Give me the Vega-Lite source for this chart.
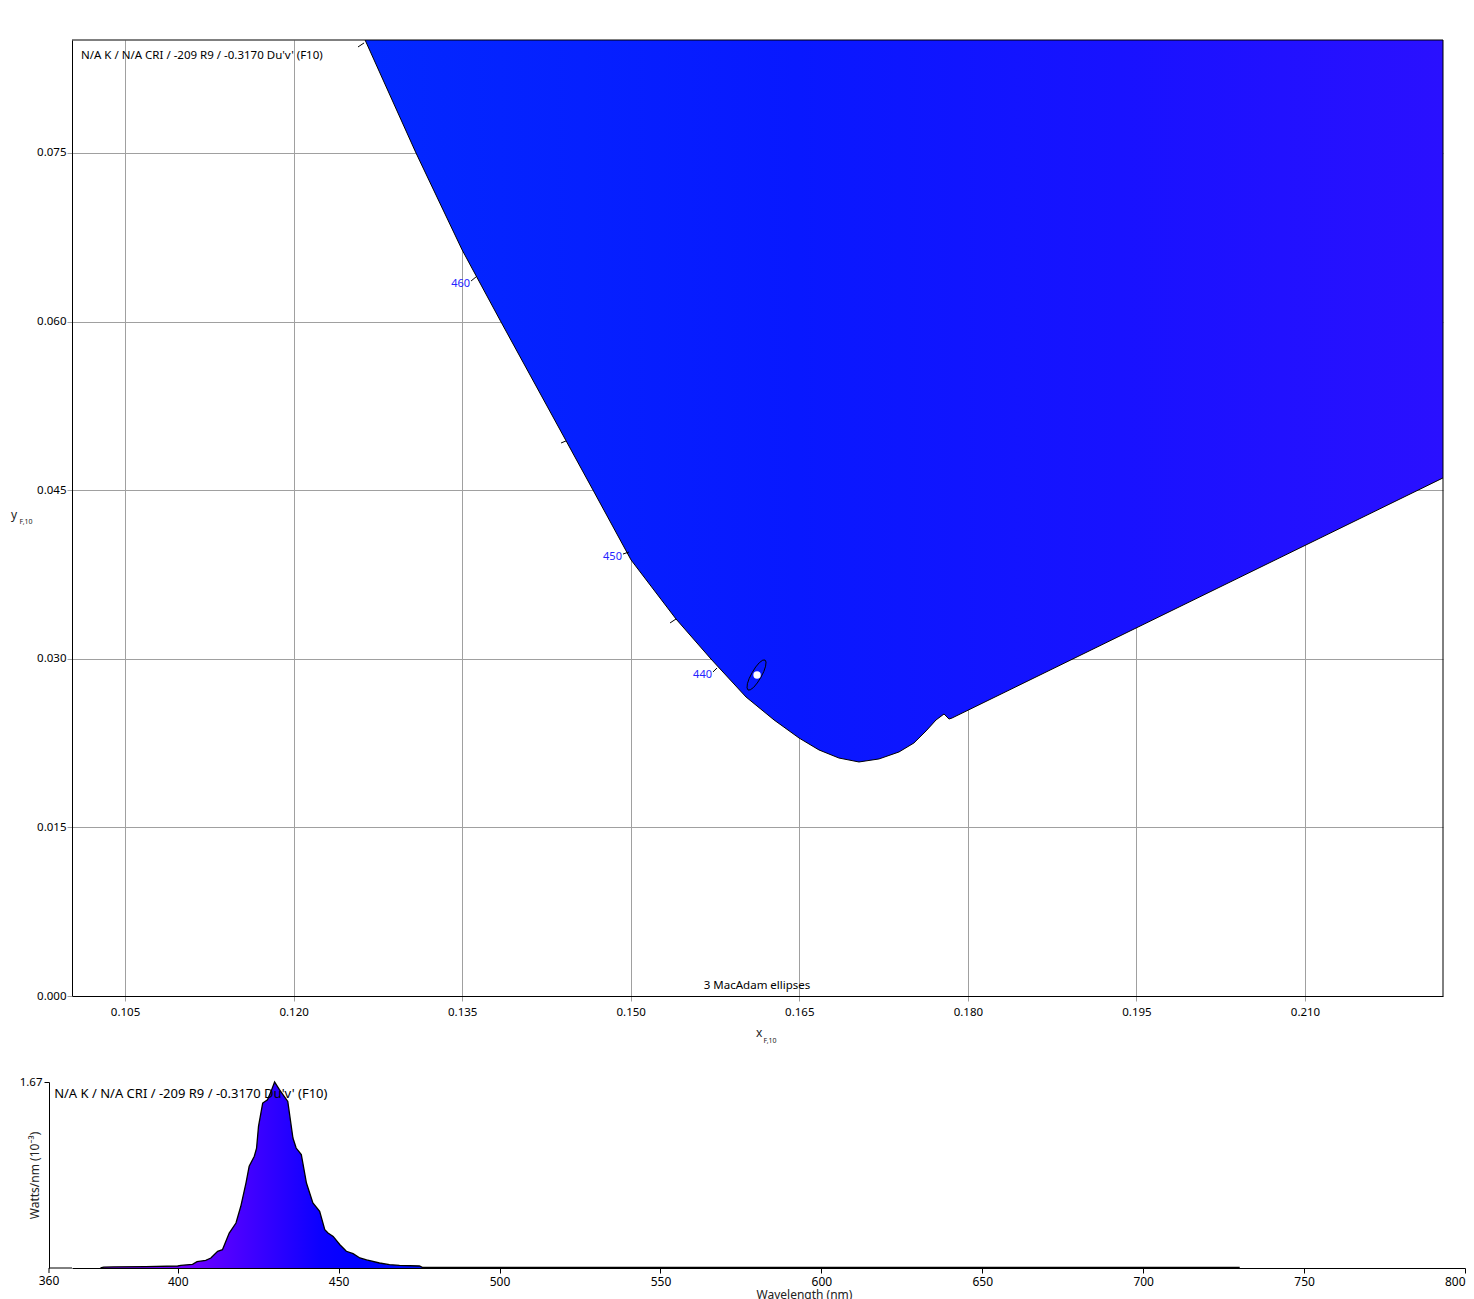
{
  "$schema": "https://vega.github.io/schema/vega-lite/v6.json",
  "background": "white",
  "padding": {"left": 10, "top": 39, "right": 0, "bottom": 0},
  "spacing": 32,
  "config": {
    "font": "Noto Sans",
    "view": {"stroke": null},
    "axis": {"labelFont": "Noto Sans", "labelFontSize": 11.5, "labelColor": "black", "titleFont": "Noto Sans", "titleFontWeight": "normal", "titleColor": "#222222", "zindex": 1},
    "text": {"font": "Noto Sans"}
  },
  "datasets": {
    "one": [{}],
    "locus": [
      {"x": 0.12636, "y": 0.08505}, {"x": 0.13089, "y": 0.07500}, {"x": 0.13500, "y": 0.06637},
      {"x": 0.13846, "y": 0.05996}, {"x": 0.14255, "y": 0.05249}, {"x": 0.14664, "y": 0.04502},
      {"x": 0.15003, "y": 0.03879}, {"x": 0.15403, "y": 0.03354}, {"x": 0.15714, "y": 0.02998},
      {"x": 0.16026, "y": 0.02660}, {"x": 0.16275, "y": 0.02456}, {"x": 0.16498, "y": 0.02295},
      {"x": 0.16675, "y": 0.02189}, {"x": 0.16853, "y": 0.02117}, {"x": 0.17031, "y": 0.02082},
      {"x": 0.17209, "y": 0.02109}, {"x": 0.17387, "y": 0.02171}, {"x": 0.17520, "y": 0.02251},
      {"x": 0.17628, "y": 0.02358}, {"x": 0.17717, "y": 0.02456}, {"x": 0.17788, "y": 0.02509},
      {"x": 0.17832, "y": 0.02464}, {"x": 0.17859, "y": 0.02473}, {"x": 0.22228, "y": 0.04609}
    ],
    "ticks": [
      {"x": 0.12573, "y": 0.08443, "x2": 0.12627, "y2": 0.08479},
      {"x": 0.13579, "y": 0.06361, "x2": 0.13623, "y2": 0.06397},
      {"x": 0.14380, "y": 0.04920, "x2": 0.14424, "y2": 0.04938},
      {"x": 0.14931, "y": 0.03932, "x2": 0.14985, "y2": 0.03950},
      {"x": 0.15350, "y": 0.03319, "x2": 0.15403, "y2": 0.03354},
      {"x": 0.15732, "y": 0.02883, "x2": 0.15768, "y2": 0.02918}
    ],
    "wlabels": [
      {"x": 0.13570, "y": 0.06335, "t": "460"},
      {"x": 0.14922, "y": 0.03906, "t": "450"},
      {"x": 0.15723, "y": 0.02856, "t": "440"}
    ],
    "ellipse": [
      {"o": 0, "x": 0.16195, "y": 0.02989}, {"o": 1, "x": 0.16204, "y": 0.02971}, {"o": 2, "x": 0.16200, "y": 0.02934},
      {"o": 3, "x": 0.16184, "y": 0.02886}, {"o": 4, "x": 0.16158, "y": 0.02834}, {"o": 5, "x": 0.16126, "y": 0.02785},
      {"o": 6, "x": 0.16094, "y": 0.02746}, {"o": 7, "x": 0.16064, "y": 0.02724}, {"o": 8, "x": 0.16044, "y": 0.02722},
      {"o": 9, "x": 0.16035, "y": 0.02741}, {"o": 10, "x": 0.16038, "y": 0.02778}, {"o": 11, "x": 0.16054, "y": 0.02825},
      {"o": 12, "x": 0.16081, "y": 0.02878}, {"o": 13, "x": 0.16112, "y": 0.02927}, {"o": 14, "x": 0.16145, "y": 0.02966},
      {"o": 15, "x": 0.16175, "y": 0.02988}, {"o": 16, "x": 0.16195, "y": 0.02989}
    ],
    "spec": [
      {"wl": 376, "v": 0.0}, {"wl": 377, "v": 0.008}, {"wl": 380, "v": 0.01}, {"wl": 390, "v": 0.012},
      {"wl": 400, "v": 0.018}, {"wl": 401, "v": 0.024}, {"wl": 404.6, "v": 0.033}, {"wl": 406, "v": 0.057},
      {"wl": 408.7, "v": 0.069}, {"wl": 410.3, "v": 0.09}, {"wl": 412.4, "v": 0.15}, {"wl": 413.9, "v": 0.165},
      {"wl": 416, "v": 0.314}, {"wl": 418.1, "v": 0.404}, {"wl": 419.6, "v": 0.554}, {"wl": 421.2, "v": 0.763},
      {"wl": 422.2, "v": 0.913}, {"wl": 423.8, "v": 1.003}, {"wl": 424.5, "v": 1.077}, {"wl": 425.1, "v": 1.272},
      {"wl": 426.4, "v": 1.481}, {"wl": 427.9, "v": 1.511}, {"wl": 429, "v": 1.586}, {"wl": 430.1, "v": 1.67},
      {"wl": 431.6, "v": 1.601}, {"wl": 434.2, "v": 1.496}, {"wl": 435.8, "v": 1.167}, {"wl": 436.8, "v": 1.077},
      {"wl": 438.4, "v": 1.018}, {"wl": 440, "v": 0.763}, {"wl": 442, "v": 0.584}, {"wl": 444.1, "v": 0.509},
      {"wl": 445.7, "v": 0.344}, {"wl": 446.7, "v": 0.314}, {"wl": 448.3, "v": 0.284}, {"wl": 450.4, "v": 0.209},
      {"wl": 452.4, "v": 0.15}, {"wl": 454.5, "v": 0.129}, {"wl": 456.6, "v": 0.09}, {"wl": 458.7, "v": 0.072},
      {"wl": 462.7, "v": 0.045}, {"wl": 465.8, "v": 0.03}, {"wl": 468.9, "v": 0.024}, {"wl": 475.1, "v": 0.018},
      {"wl": 476, "v": 0.006}, {"wl": 500, "v": 0.005}, {"wl": 600, "v": 0.005}, {"wl": 700, "v": 0.005},
      {"wl": 730, "v": 0.005}
    ]
  },
  "vconcat": [
    {
      "width": 1371,
      "height": 956,
      "encoding": {
        "x": {"type": "quantitative", "scale": {"domain": [0.10028, 0.22228], "nice": false, "zero": false},
          "axis": {"values": [0.105, 0.12, 0.135, 0.15, 0.165, 0.18, 0.195, 0.21], "format": ".3f", "title": null, "grid": true, "gridColor": "#a0a0a0", "gridOpacity": 1, "tickColor": "#a0a0a0", "tickSize": 5, "domainColor": "black", "labelPadding": 5}},
        "y": {"type": "quantitative", "scale": {"domain": [0, 0.08505], "nice": false, "zero": false},
          "axis": {"values": [0, 0.015, 0.03, 0.045, 0.06, 0.075], "format": ".3f", "title": null, "grid": true, "gridColor": "#a0a0a0", "gridOpacity": 1, "tickColor": "#a0a0a0", "tickSize": 5, "domainColor": "black", "labelPadding": 1}}
      },
      "layer": [
        {
          "data": {"name": "locus"},
          "mark": {"type": "area", "clip": true, "color": {"gradient": "linear", "x1": 0, "y1": 0, "x2": 1, "y2": 0, "stops": [{"offset": 0, "color": "#0228ff"}, {"offset": 0.4, "color": "#0818ff"}, {"offset": 0.7, "color": "#1812ff"}, {"offset": 1, "color": "#2a10ff"}]}},
          "encoding": {"x": {"field": "x"}, "y": {"field": "y"}, "y2": {"datum": 0.08505}}
        },
        {
          "data": {"name": "locus"},
          "mark": {"type": "line", "clip": true, "color": "black", "strokeWidth": 1},
          "encoding": {"x": {"field": "x"}, "y": {"field": "y"}}
        },
        {
          "data": {"name": "ticks"},
          "mark": {"type": "rule", "color": "black", "strokeWidth": 1},
          "encoding": {"x": {"field": "x"}, "y": {"field": "y"}, "x2": {"field": "x2"}, "y2": {"field": "y2"}}
        },
        {
          "data": {"name": "wlabels"},
          "mark": {"type": "text", "align": "right", "baseline": "middle", "fontSize": 11, "color": "#2424ff"},
          "encoding": {"x": {"field": "x"}, "y": {"field": "y"}, "text": {"field": "t"}}
        },
        {
          "data": {"name": "ellipse"},
          "mark": {"type": "line", "color": "black", "strokeWidth": 1},
          "encoding": {"x": {"field": "x"}, "y": {"field": "y"}, "order": {"field": "o"}}
        },
        {
          "data": {"name": "one"},
          "mark": {"type": "point", "filled": true, "color": "white", "opacity": 1, "size": 55},
          "encoding": {"x": {"datum": 0.16124}, "y": {"datum": 0.02856}}
        },
        {
          "data": {"name": "one"},
          "mark": {"type": "rule", "color": "black", "strokeWidth": 1},
          "encoding": {"y": {"datum": 0.08505}}
        },
        {
          "data": {"name": "one"},
          "mark": {"type": "rule", "color": "black", "strokeWidth": 1},
          "encoding": {"x": {"datum": 0.22228}}
        },
        {
          "data": {"name": "one"},
          "mark": {"type": "text", "align": "left", "baseline": "middle", "fontSize": 11.5, "color": "black", "text": "N/A K / N/A CRI / -209 R9 / -0.3170 Du'v' (F10)"},
          "encoding": {"x": {"datum": 0.10108}, "y": {"datum": 0.08363}}
        },
        {
          "data": {"name": "one"},
          "mark": {"type": "text", "align": "center", "baseline": "middle", "fontSize": 11.5, "color": "black", "text": "3  MacAdam ellipses"},
          "encoding": {"x": {"datum": 0.16124}, "y": {"datum": 0.00089}}
        },
        {
          "data": {"name": "one"},
          "mark": {"type": "text", "align": "center", "baseline": "middle", "fontSize": 12, "color": "#222222", "text": "x"},
          "encoding": {"x": {"datum": 0.16142}, "y": {"datum": -0.00329}}
        },
        {
          "data": {"name": "one"},
          "mark": {"type": "text", "align": "center", "baseline": "middle", "fontSize": 7, "color": "#222222", "text": "F,10"},
          "encoding": {"x": {"datum": 0.16239}, "y": {"datum": -0.004}}
        },
        {
          "data": {"name": "one"},
          "mark": {"type": "text", "align": "center", "baseline": "middle", "fontSize": 12, "color": "#222222", "text": "y"},
          "encoding": {"x": {"datum": 0.09512}, "y": {"datum": 0.04279}}
        },
        {
          "data": {"name": "one"},
          "mark": {"type": "text", "align": "center", "baseline": "middle", "fontSize": 7, "color": "#222222", "text": "F,10"},
          "encoding": {"x": {"datum": 0.09619}, "y": {"datum": 0.04217}}
        }
      ]
    },
    {
      "width": 1393,
      "height": 186,
      "encoding": {
        "x": {"type": "quantitative", "scale": {"domain": [367.147, 800], "nice": false, "zero": false},
          "axis": {"values": [400, 450, 500, 550, 600, 650, 700, 750, 800], "format": "d", "title": "Wavelength (nm)", "titleFontSize": 12, "titlePadding": 2, "titleX": 732, "titleAlign": "center", "grid": false, "tickColor": "black", "tickSize": 5, "domainColor": "black", "labelPadding": 3, "labelFontSize": 12}},
        "y": {"type": "quantitative", "scale": {"domain": [0, 1.67], "nice": false, "zero": true},
          "axis": {"values": [1.67], "format": ".2f", "offset": 23, "title": "Watts/nm (10⁻³)", "titleFontSize": 12, "titleX": -15, "titleY": 93, "titleBaseline": "middle", "grid": false, "tickColor": "black", "tickSize": 5, "domainColor": "black", "labelPadding": 2, "labelFontSize": 11.5}}
      },
      "layer": [
        {
          "data": {"name": "spec"},
          "transform": [{"filter": "datum.wl <= 476"}],
          "mark": {"type": "area", "color": {"gradient": "linear", "x1": 0, "y1": 0, "x2": 1, "y2": 0, "stops": [{"offset": 0, "color": "#7800ff"}, {"offset": 0.3, "color": "#6800ff"}, {"offset": 0.45, "color": "#4400ff"}, {"offset": 0.55, "color": "#2c00ff"}, {"offset": 0.68, "color": "#0c00ff"}, {"offset": 0.8, "color": "#0000ff"}, {"offset": 1, "color": "#0010ff"}]}},
          "encoding": {"x": {"field": "wl"}, "y": {"field": "v"}}
        },
        {
          "data": {"name": "spec"},
          "mark": {"type": "line", "color": "black", "strokeWidth": 1.3},
          "encoding": {"x": {"field": "wl"}, "y": {"field": "v"}}
        },
        {
          "data": {"name": "one"},
          "mark": {"type": "rule", "color": "black", "strokeWidth": 1},
          "encoding": {"x": {"datum": 360}, "x2": {"datum": 367.147}, "y": {"datum": 0}}
        },
        {
          "data": {"name": "one"},
          "mark": {"type": "rule", "color": "black", "strokeWidth": 1},
          "encoding": {"x": {"datum": 360}, "y": {"datum": 0}, "y2": {"datum": -0.0449}}
        },
        {
          "data": {"name": "one"},
          "mark": {"type": "text", "align": "center", "baseline": "top", "fontSize": 12, "color": "black", "text": "360"},
          "encoding": {"x": {"datum": 360}, "y": {"datum": -0.0718}}
        },
        {
          "data": {"name": "one"},
          "mark": {"type": "text", "align": "left", "baseline": "middle", "fontSize": 13, "color": "black", "text": "N/A K / N/A CRI / -209 R9 / -0.3170 Du'v' (F10)"},
          "encoding": {"x": {"datum": 361.6}, "y": {"datum": 1.56}}
        }
      ]
    }
  ]
}
